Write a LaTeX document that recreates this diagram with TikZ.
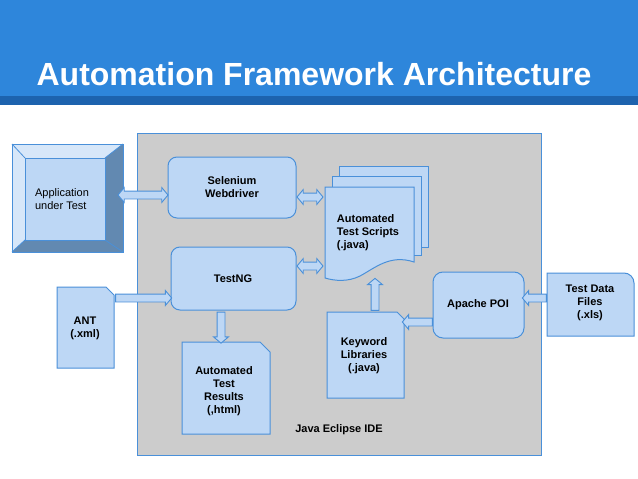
\documentclass[tikz,border=0pt]{standalone}
\usepackage{fontspec}
\setmainfont{Liberation Sans}
\usetikzlibrary{shapes.arrows}
\definecolor{bl}{HTML}{BDD7F5}
\definecolor{st}{HTML}{4A90D9}
\definecolor{tb}{HTML}{2E86DB}
\definecolor{tbd}{HTML}{1D63AE}
\begin{document}
\begin{tikzpicture}[x=1pt,y=-1pt,
  box/.style={draw=st,fill=bl,line width=1pt},
  lbl/.style={font=\bfseries\fontsize{11}{13}\selectfont,align=center,text=black},
  arr/.style={draw=st,fill=bl,line width=0.9pt,inner xsep=0pt,inner ysep=3.5pt,anchor=center},
  sarr/.style={arr,single arrow,single arrow head extend=3.5pt,single arrow tip angle=100},
  darr/.style={arr,double arrow,double arrow head extend=3.5pt,double arrow tip angle=100}]
\useasboundingbox (0,0) rectangle (638,479);
\fill[white] (0,0) rectangle (638,479);
\fill[tb] (0,0) rectangle (638,96);
\fill[tbd] (0,96) rectangle (638,105);
\node[text=white,font=\bfseries\fontsize{32}{36}\selectfont] (title) at (314,74) {Automation Framework Architecture};
% IDE box
\draw[st,fill={rgb,255:red,204;green,204;blue,204},line width=1pt] (137,133) rectangle (541,455);
\node[lbl] (ide) at (339,430) {Java Eclipse IDE};
% Application bevel
\fill[bl!60!white] (12,144) -- (123,144) -- (105,158) -- (25,158) -- (25,240) -- (12,252) -- cycle;
\fill[st!55!gray] (123,144) -- (123,252) -- (12,252) -- (25,240) -- (105,240) -- (105,158) -- cycle;
\draw[st,line width=1pt] (12,144) rectangle (123,252);
\draw[box] (25,158) rectangle (105,240);
\draw[st,line width=0.8pt] (12,144)--(25,158) (123,144)--(105,158) (12,252)--(25,240) (123,252)--(105,240);
\node[font=\fontsize{11}{13}\selectfont,align=left] (app) at (62,199) {Application\\under Test};
% Selenium / TestNG
\draw[box,rounded corners=9pt] (168,157) rectangle (296,218);
\node[lbl] (sel) at (232,187) {Selenium\\Webdriver};
\draw[box,rounded corners=9pt] (171,247) rectangle (296,310);
\node[lbl] (tng) at (233,279) {TestNG};
% ANT doc
\draw[box] (57,287) -- (106,287) -- (114,295) -- (114,368) -- (57,368) -- cycle;
\node[lbl] (ant) at (85,328) {ANT\\(.xml)};
% Results doc
\draw[box] (182,342) -- (260,342) -- (270,352) -- (270,434) -- (182,434) -- cycle;
\node[lbl] (res) at (224,391) {Automated\\Test\\Results\\(,html)};
% Scripts stack
\draw[box] (339,166) -- (428,166) -- (428,247) -- (339,247) -- cycle;
\draw[box] (332,176) -- (421,176) -- (421,255) -- (332,255) -- cycle;
\draw[box] (325,187) -- (414,187) -- (414,262) .. controls (390,254) and (375,268) .. (360,276) .. controls (348,282) and (335,281) .. (325,278) -- cycle;
\node[lbl,align=left] (scr) at (368,233) {Automated\\Test Scripts\\(.java)};
% Keyword doc
\draw[box] (327,312) -- (397,312) -- (404,319) -- (404,398) -- (327,398) -- cycle;
\node[lbl] (kw) at (364,356) {Keyword\\Libraries\\(.java)};
% Apache POI
\draw[box,rounded corners=10pt] (433,272) rectangle (524,338);
\node[lbl] (poi) at (478,305) {Apache POI};
% Test data
\draw[box] (547,273) -- (624,273) arc (-90:0:10) -- (634,336) -- (547,336) -- cycle;
\node[lbl] (td) at (590,303) {Test Data\\Files\\(.xls)};
% arrows
\node[darr,minimum height=50pt] (a1) at (143,195) {};
\node[darr,minimum height=26pt] (a2) at (310,197) {};
\node[darr,minimum height=26pt] (a3) at (310,266) {};
\node[sarr,minimum height=56pt] (a4) at (142,298) {};
\node[sarr,minimum height=31pt,rotate=-90] (a5) at (221,326) {};
\node[sarr,minimum height=32pt,rotate=90] (a6) at (375,296) {};
\node[sarr,minimum height=30pt,shape border rotate=180] (a7) at (419,322) {};
\node[sarr,minimum height=24pt,shape border rotate=180] (a8) at (536,298) {};
\end{tikzpicture}
\end{document}
